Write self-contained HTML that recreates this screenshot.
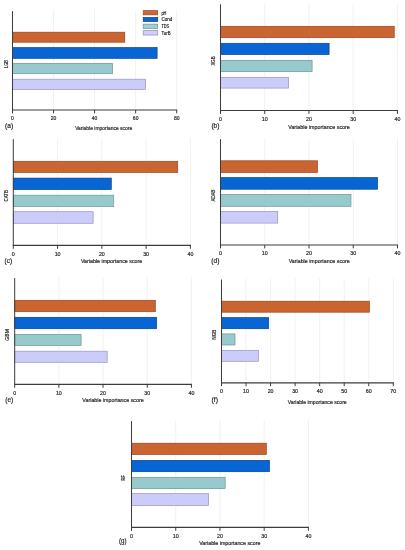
<!DOCTYPE html>
<html><head><meta charset="utf-8"><style>
html,body{margin:0;padding:0;background:#fff;width:405px;height:550px;overflow:hidden}
svg{display:block}
text{font-family:'Liberation Sans', Arial, sans-serif;fill:#2a2a2a;stroke:#2a2a2a;stroke-width:0.2px}
.tk{font-size:5.2px;text-anchor:middle}
.yl{font-size:5.0px;text-anchor:middle}
.pl{font-size:7.0px}
.tt{font-size:5.8px;text-anchor:middle}
.lg{font-size:4.8px}
</style></head><body>
<svg width="405" height="550" viewBox="0 0 405 550">
<line x1="53.55" y1="10.10" x2="53.55" y2="110.00" stroke="#EBEBEB" stroke-width="0.7"/>
<line x1="94.60" y1="10.10" x2="94.60" y2="110.00" stroke="#EBEBEB" stroke-width="0.7"/>
<line x1="135.65" y1="10.10" x2="135.65" y2="110.00" stroke="#EBEBEB" stroke-width="0.7"/>
<line x1="176.70" y1="10.10" x2="176.70" y2="110.00" stroke="#EBEBEB" stroke-width="0.7"/>
<rect x="12.50" y="32.20" width="112.28" height="10.00" fill="#CA6430" stroke="#9A4420" stroke-width="0.7"/>
<rect x="12.50" y="47.60" width="144.61" height="10.70" fill="#0865D4" stroke="#063E90" stroke-width="0.7"/>
<rect x="12.50" y="63.40" width="100.07" height="10.30" fill="#96CACC" stroke="#6A9796" stroke-width="0.7"/>
<rect x="12.50" y="79.20" width="133.11" height="10.20" fill="#CCCCFA" stroke="#9494C0" stroke-width="0.7"/>
<line x1="12.50" y1="11.10" x2="12.50" y2="110.00" stroke="#3c3c3c" stroke-width="1.0"/>
<line x1="12.00" y1="110.00" x2="177.20" y2="110.00" stroke="#3c3c3c" stroke-width="1.2"/>
<line x1="12.50" y1="110.00" x2="12.50" y2="113.40" stroke="#3c3c3c" stroke-width="1.0"/>
<text x="12.50" y="120.30" class="tk" style="font-size:5.0px">0</text>
<line x1="53.55" y1="110.00" x2="53.55" y2="113.40" stroke="#3c3c3c" stroke-width="1.0"/>
<text x="53.55" y="120.30" class="tk" style="font-size:5.0px">20</text>
<line x1="94.60" y1="110.00" x2="94.60" y2="113.40" stroke="#3c3c3c" stroke-width="1.0"/>
<text x="94.60" y="120.30" class="tk" style="font-size:5.0px">40</text>
<line x1="135.65" y1="110.00" x2="135.65" y2="113.40" stroke="#3c3c3c" stroke-width="1.0"/>
<text x="135.65" y="120.30" class="tk" style="font-size:5.0px">60</text>
<line x1="176.70" y1="110.00" x2="176.70" y2="113.40" stroke="#3c3c3c" stroke-width="1.0"/>
<text x="176.70" y="120.30" class="tk" style="font-size:5.0px">80</text>
<text transform="translate(7.50,64.10) rotate(-90)" class="yl" textLength="7.6" lengthAdjust="spacingAndGlyphs">LGB</text>
<text x="5.00" y="128.20" class="pl" textLength="8.2" lengthAdjust="spacingAndGlyphs">(a)</text>
<text x="103.70" y="130.30" class="tt" textLength="57.0" lengthAdjust="spacingAndGlyphs">Variable importance score</text>
<line x1="264.73" y1="3.30" x2="264.73" y2="110.50" stroke="#EBEBEB" stroke-width="0.7"/>
<line x1="308.95" y1="3.30" x2="308.95" y2="110.50" stroke="#EBEBEB" stroke-width="0.7"/>
<line x1="353.17" y1="3.30" x2="353.17" y2="110.50" stroke="#EBEBEB" stroke-width="0.7"/>
<line x1="397.40" y1="3.30" x2="397.40" y2="110.50" stroke="#EBEBEB" stroke-width="0.7"/>
<rect x="220.50" y="26.30" width="173.73" height="11.40" fill="#CA6430" stroke="#9A4420" stroke-width="0.7"/>
<rect x="220.50" y="43.30" width="108.58" height="11.20" fill="#0865D4" stroke="#063E90" stroke-width="0.7"/>
<rect x="220.50" y="60.30" width="91.60" height="11.30" fill="#96CACC" stroke="#6A9796" stroke-width="0.7"/>
<rect x="220.50" y="77.30" width="68.03" height="10.80" fill="#CCCCFA" stroke="#9494C0" stroke-width="0.7"/>
<line x1="220.50" y1="4.30" x2="220.50" y2="110.50" stroke="#3c3c3c" stroke-width="1.0"/>
<line x1="220.00" y1="110.50" x2="397.90" y2="110.50" stroke="#3c3c3c" stroke-width="1.2"/>
<line x1="220.50" y1="110.50" x2="220.50" y2="113.90" stroke="#3c3c3c" stroke-width="1.0"/>
<text x="220.50" y="120.80" class="tk" style="font-size:5.3px">0</text>
<line x1="264.73" y1="110.50" x2="264.73" y2="113.90" stroke="#3c3c3c" stroke-width="1.0"/>
<text x="264.73" y="120.80" class="tk" style="font-size:5.3px">10</text>
<line x1="308.95" y1="110.50" x2="308.95" y2="113.90" stroke="#3c3c3c" stroke-width="1.0"/>
<text x="308.95" y="120.80" class="tk" style="font-size:5.3px">20</text>
<line x1="353.17" y1="110.50" x2="353.17" y2="113.90" stroke="#3c3c3c" stroke-width="1.0"/>
<text x="353.17" y="120.80" class="tk" style="font-size:5.3px">30</text>
<line x1="397.40" y1="110.50" x2="397.40" y2="113.90" stroke="#3c3c3c" stroke-width="1.0"/>
<text x="397.40" y="120.80" class="tk" style="font-size:5.3px">40</text>
<text transform="translate(214.80,61.00) rotate(-90)" class="yl" textLength="9.2" lengthAdjust="spacingAndGlyphs">XGB</text>
<text x="211.40" y="128.30" class="pl" textLength="8.1" lengthAdjust="spacingAndGlyphs">(b)</text>
<text x="319.00" y="128.60" class="tt" textLength="61.5" lengthAdjust="spacingAndGlyphs">Variable importance score</text>
<line x1="57.58" y1="138.10" x2="57.58" y2="245.40" stroke="#EBEBEB" stroke-width="0.7"/>
<line x1="101.85" y1="138.10" x2="101.85" y2="245.40" stroke="#EBEBEB" stroke-width="0.7"/>
<line x1="146.13" y1="138.10" x2="146.13" y2="245.40" stroke="#EBEBEB" stroke-width="0.7"/>
<line x1="190.40" y1="138.10" x2="190.40" y2="245.40" stroke="#EBEBEB" stroke-width="0.7"/>
<rect x="13.30" y="161.30" width="164.40" height="11.10" fill="#CA6430" stroke="#9A4420" stroke-width="0.7"/>
<rect x="13.30" y="178.10" width="97.99" height="11.40" fill="#0865D4" stroke="#063E90" stroke-width="0.7"/>
<rect x="13.30" y="195.20" width="100.43" height="11.30" fill="#96CACC" stroke="#6A9796" stroke-width="0.7"/>
<rect x="13.30" y="211.70" width="79.84" height="11.60" fill="#CCCCFA" stroke="#9494C0" stroke-width="0.7"/>
<line x1="13.30" y1="139.10" x2="13.30" y2="245.40" stroke="#3c3c3c" stroke-width="1.0"/>
<line x1="12.80" y1="245.40" x2="190.90" y2="245.40" stroke="#3c3c3c" stroke-width="1.2"/>
<line x1="13.30" y1="245.40" x2="13.30" y2="248.80" stroke="#3c3c3c" stroke-width="1.0"/>
<text x="13.30" y="255.70" class="tk" style="font-size:5.3px">0</text>
<line x1="57.58" y1="245.40" x2="57.58" y2="248.80" stroke="#3c3c3c" stroke-width="1.0"/>
<text x="57.58" y="255.70" class="tk" style="font-size:5.3px">10</text>
<line x1="101.85" y1="245.40" x2="101.85" y2="248.80" stroke="#3c3c3c" stroke-width="1.0"/>
<text x="101.85" y="255.70" class="tk" style="font-size:5.3px">20</text>
<line x1="146.13" y1="245.40" x2="146.13" y2="248.80" stroke="#3c3c3c" stroke-width="1.0"/>
<text x="146.13" y="255.70" class="tk" style="font-size:5.3px">30</text>
<line x1="190.40" y1="245.40" x2="190.40" y2="248.80" stroke="#3c3c3c" stroke-width="1.0"/>
<text x="190.40" y="255.70" class="tk" style="font-size:5.3px">40</text>
<text transform="translate(7.60,195.80) rotate(-90)" class="yl" textLength="11.2" lengthAdjust="spacingAndGlyphs">CATB</text>
<text x="4.60" y="263.30" class="pl" textLength="7.5" lengthAdjust="spacingAndGlyphs">(c)</text>
<text x="111.60" y="263.10" class="tt" textLength="61.3" lengthAdjust="spacingAndGlyphs">Variable importance score</text>
<line x1="264.75" y1="138.10" x2="264.75" y2="245.00" stroke="#EBEBEB" stroke-width="0.7"/>
<line x1="309.00" y1="138.10" x2="309.00" y2="245.00" stroke="#EBEBEB" stroke-width="0.7"/>
<line x1="353.25" y1="138.10" x2="353.25" y2="245.00" stroke="#EBEBEB" stroke-width="0.7"/>
<line x1="397.50" y1="138.10" x2="397.50" y2="245.00" stroke="#EBEBEB" stroke-width="0.7"/>
<rect x="220.50" y="160.80" width="97.05" height="11.60" fill="#CA6430" stroke="#9A4420" stroke-width="0.7"/>
<rect x="220.50" y="177.60" width="157.01" height="11.60" fill="#0865D4" stroke="#063E90" stroke-width="0.7"/>
<rect x="220.50" y="194.40" width="130.46" height="11.90" fill="#96CACC" stroke="#6A9796" stroke-width="0.7"/>
<rect x="220.50" y="211.50" width="57.23" height="11.60" fill="#CCCCFA" stroke="#9494C0" stroke-width="0.7"/>
<line x1="220.50" y1="139.10" x2="220.50" y2="245.00" stroke="#3c3c3c" stroke-width="1.0"/>
<line x1="220.00" y1="245.00" x2="398.00" y2="245.00" stroke="#3c3c3c" stroke-width="1.2"/>
<line x1="220.50" y1="245.00" x2="220.50" y2="248.40" stroke="#3c3c3c" stroke-width="1.0"/>
<text x="220.50" y="255.30" class="tk" style="font-size:5.3px">0</text>
<line x1="264.75" y1="245.00" x2="264.75" y2="248.40" stroke="#3c3c3c" stroke-width="1.0"/>
<text x="264.75" y="255.30" class="tk" style="font-size:5.3px">10</text>
<line x1="309.00" y1="245.00" x2="309.00" y2="248.40" stroke="#3c3c3c" stroke-width="1.0"/>
<text x="309.00" y="255.30" class="tk" style="font-size:5.3px">20</text>
<line x1="353.25" y1="245.00" x2="353.25" y2="248.40" stroke="#3c3c3c" stroke-width="1.0"/>
<text x="353.25" y="255.30" class="tk" style="font-size:5.3px">30</text>
<line x1="397.50" y1="245.00" x2="397.50" y2="248.40" stroke="#3c3c3c" stroke-width="1.0"/>
<text x="397.50" y="255.30" class="tk" style="font-size:5.3px">40</text>
<text transform="translate(214.80,195.50) rotate(-90)" class="yl" textLength="12.2" lengthAdjust="spacingAndGlyphs">ADAB</text>
<text x="211.30" y="262.90" class="pl" textLength="8.2" lengthAdjust="spacingAndGlyphs">(d)</text>
<text x="319.20" y="262.70" class="tt" textLength="61.0" lengthAdjust="spacingAndGlyphs">Variable importance score</text>
<line x1="58.88" y1="277.00" x2="58.88" y2="384.40" stroke="#EBEBEB" stroke-width="0.7"/>
<line x1="103.05" y1="277.00" x2="103.05" y2="384.40" stroke="#EBEBEB" stroke-width="0.7"/>
<line x1="147.22" y1="277.00" x2="147.22" y2="384.40" stroke="#EBEBEB" stroke-width="0.7"/>
<line x1="191.40" y1="277.00" x2="191.40" y2="384.40" stroke="#EBEBEB" stroke-width="0.7"/>
<rect x="14.70" y="300.30" width="140.62" height="11.40" fill="#CA6430" stroke="#9A4420" stroke-width="0.7"/>
<rect x="14.70" y="317.30" width="141.94" height="11.40" fill="#0865D4" stroke="#063E90" stroke-width="0.7"/>
<rect x="14.70" y="334.40" width="66.40" height="11.10" fill="#96CACC" stroke="#6A9796" stroke-width="0.7"/>
<rect x="14.70" y="351.20" width="92.47" height="11.10" fill="#CCCCFA" stroke="#9494C0" stroke-width="0.7"/>
<line x1="14.70" y1="278.00" x2="14.70" y2="384.40" stroke="#3c3c3c" stroke-width="1.0"/>
<line x1="14.20" y1="384.40" x2="191.90" y2="384.40" stroke="#3c3c3c" stroke-width="1.2"/>
<line x1="14.70" y1="384.40" x2="14.70" y2="387.80" stroke="#3c3c3c" stroke-width="1.0"/>
<text x="14.70" y="394.70" class="tk" style="font-size:5.3px">0</text>
<line x1="58.88" y1="384.40" x2="58.88" y2="387.80" stroke="#3c3c3c" stroke-width="1.0"/>
<text x="58.88" y="394.70" class="tk" style="font-size:5.3px">10</text>
<line x1="103.05" y1="384.40" x2="103.05" y2="387.80" stroke="#3c3c3c" stroke-width="1.0"/>
<text x="103.05" y="394.70" class="tk" style="font-size:5.3px">20</text>
<line x1="147.22" y1="384.40" x2="147.22" y2="387.80" stroke="#3c3c3c" stroke-width="1.0"/>
<text x="147.22" y="394.70" class="tk" style="font-size:5.3px">30</text>
<line x1="191.40" y1="384.40" x2="191.40" y2="387.80" stroke="#3c3c3c" stroke-width="1.0"/>
<text x="191.40" y="394.70" class="tk" style="font-size:5.3px">40</text>
<text transform="translate(9.20,334.90) rotate(-90)" class="yl" textLength="11.5" lengthAdjust="spacingAndGlyphs">GBM</text>
<text x="5.20" y="402.30" class="pl" textLength="8.1" lengthAdjust="spacingAndGlyphs">(e)</text>
<text x="113.00" y="402.30" class="tt" textLength="61.3" lengthAdjust="spacingAndGlyphs">Variable importance score</text>
<line x1="246.04" y1="278.50" x2="246.04" y2="382.80" stroke="#EBEBEB" stroke-width="0.7"/>
<line x1="270.59" y1="278.50" x2="270.59" y2="382.80" stroke="#EBEBEB" stroke-width="0.7"/>
<line x1="295.13" y1="278.50" x2="295.13" y2="382.80" stroke="#EBEBEB" stroke-width="0.7"/>
<line x1="319.67" y1="278.50" x2="319.67" y2="382.80" stroke="#EBEBEB" stroke-width="0.7"/>
<line x1="344.21" y1="278.50" x2="344.21" y2="382.80" stroke="#EBEBEB" stroke-width="0.7"/>
<line x1="368.76" y1="278.50" x2="368.76" y2="382.80" stroke="#EBEBEB" stroke-width="0.7"/>
<line x1="393.30" y1="278.50" x2="393.30" y2="382.80" stroke="#EBEBEB" stroke-width="0.7"/>
<rect x="221.50" y="301.20" width="147.94" height="11.00" fill="#CA6430" stroke="#9A4420" stroke-width="0.7"/>
<rect x="221.50" y="317.60" width="47.07" height="11.10" fill="#0865D4" stroke="#063E90" stroke-width="0.7"/>
<rect x="221.50" y="333.90" width="13.49" height="11.10" fill="#96CACC" stroke="#6A9796" stroke-width="0.7"/>
<rect x="221.50" y="350.50" width="36.93" height="10.80" fill="#CCCCFA" stroke="#9494C0" stroke-width="0.7"/>
<line x1="221.50" y1="279.50" x2="221.50" y2="382.80" stroke="#3c3c3c" stroke-width="1.0"/>
<line x1="221.00" y1="382.80" x2="393.80" y2="382.80" stroke="#3c3c3c" stroke-width="1.2"/>
<line x1="221.50" y1="382.80" x2="221.50" y2="386.20" stroke="#3c3c3c" stroke-width="1.0"/>
<text x="221.50" y="393.10" class="tk" style="font-size:5.3px">0</text>
<line x1="246.04" y1="382.80" x2="246.04" y2="386.20" stroke="#3c3c3c" stroke-width="1.0"/>
<text x="246.04" y="393.10" class="tk" style="font-size:5.3px">10</text>
<line x1="270.59" y1="382.80" x2="270.59" y2="386.20" stroke="#3c3c3c" stroke-width="1.0"/>
<text x="270.59" y="393.10" class="tk" style="font-size:5.3px">20</text>
<line x1="295.13" y1="382.80" x2="295.13" y2="386.20" stroke="#3c3c3c" stroke-width="1.0"/>
<text x="295.13" y="393.10" class="tk" style="font-size:5.3px">30</text>
<line x1="319.67" y1="382.80" x2="319.67" y2="386.20" stroke="#3c3c3c" stroke-width="1.0"/>
<text x="319.67" y="393.10" class="tk" style="font-size:5.3px">40</text>
<line x1="344.21" y1="382.80" x2="344.21" y2="386.20" stroke="#3c3c3c" stroke-width="1.0"/>
<text x="344.21" y="393.10" class="tk" style="font-size:5.3px">50</text>
<line x1="368.76" y1="382.80" x2="368.76" y2="386.20" stroke="#3c3c3c" stroke-width="1.0"/>
<text x="368.76" y="393.10" class="tk" style="font-size:5.3px">60</text>
<line x1="393.30" y1="382.80" x2="393.30" y2="386.20" stroke="#3c3c3c" stroke-width="1.0"/>
<text x="393.30" y="393.10" class="tk" style="font-size:5.3px">70</text>
<text transform="translate(216.40,334.70) rotate(-90)" class="yl" textLength="9.6" lengthAdjust="spacingAndGlyphs">NGB</text>
<text x="211.50" y="402.30" class="pl" textLength="6.5" lengthAdjust="spacingAndGlyphs">(f)</text>
<text x="317.20" y="404.40" class="tt" textLength="59.0" lengthAdjust="spacingAndGlyphs">Variable importance score</text>
<line x1="175.72" y1="420.10" x2="175.72" y2="527.40" stroke="#EBEBEB" stroke-width="0.7"/>
<line x1="219.95" y1="420.10" x2="219.95" y2="527.40" stroke="#EBEBEB" stroke-width="0.7"/>
<line x1="264.17" y1="420.10" x2="264.17" y2="527.40" stroke="#EBEBEB" stroke-width="0.7"/>
<line x1="308.40" y1="420.10" x2="308.40" y2="527.40" stroke="#EBEBEB" stroke-width="0.7"/>
<rect x="131.50" y="443.20" width="134.81" height="11.30" fill="#CA6430" stroke="#9A4420" stroke-width="0.7"/>
<rect x="131.50" y="460.40" width="137.90" height="11.30" fill="#0865D4" stroke="#063E90" stroke-width="0.7"/>
<rect x="131.50" y="477.30" width="93.68" height="11.30" fill="#96CACC" stroke="#6A9796" stroke-width="0.7"/>
<rect x="131.50" y="493.60" width="77.09" height="11.80" fill="#CCCCFA" stroke="#9494C0" stroke-width="0.7"/>
<line x1="131.50" y1="421.10" x2="131.50" y2="527.40" stroke="#3c3c3c" stroke-width="1.0"/>
<line x1="131.00" y1="527.40" x2="308.90" y2="527.40" stroke="#3c3c3c" stroke-width="1.2"/>
<line x1="131.50" y1="527.40" x2="131.50" y2="530.80" stroke="#3c3c3c" stroke-width="1.0"/>
<text x="131.50" y="537.70" class="tk" style="font-size:5.3px">0</text>
<line x1="175.72" y1="527.40" x2="175.72" y2="530.80" stroke="#3c3c3c" stroke-width="1.0"/>
<text x="175.72" y="537.70" class="tk" style="font-size:5.3px">10</text>
<line x1="219.95" y1="527.40" x2="219.95" y2="530.80" stroke="#3c3c3c" stroke-width="1.0"/>
<text x="219.95" y="537.70" class="tk" style="font-size:5.3px">20</text>
<line x1="264.17" y1="527.40" x2="264.17" y2="530.80" stroke="#3c3c3c" stroke-width="1.0"/>
<text x="264.17" y="537.70" class="tk" style="font-size:5.3px">30</text>
<line x1="308.40" y1="527.40" x2="308.40" y2="530.80" stroke="#3c3c3c" stroke-width="1.0"/>
<text x="308.40" y="537.70" class="tk" style="font-size:5.3px">40</text>
<text transform="translate(125.30,477.80) rotate(-90)" class="yl" textLength="5.2" lengthAdjust="spacingAndGlyphs">RF</text>
<text x="119.00" y="543.00" class="pl" textLength="7.6" lengthAdjust="spacingAndGlyphs">(g)</text>
<text x="229.80" y="544.50" class="tt" textLength="61.2" lengthAdjust="spacingAndGlyphs">Variable importance score</text>
<rect x="143.2" y="10.65" width="14.5" height="4.20" fill="#CD6732" stroke="#8E4A2E" stroke-width="0.7"/>
<text x="161.4" y="14.55" class="lg" textLength="5.0" lengthAdjust="spacingAndGlyphs">pH</text>
<rect x="143.2" y="17.45" width="14.5" height="4.00" fill="#0866D6" stroke="#0A3C86" stroke-width="0.7"/>
<text x="161.4" y="21.25" class="lg" textLength="10.8" lengthAdjust="spacingAndGlyphs">Cond</text>
<rect x="143.2" y="24.15" width="14.5" height="4.20" fill="#9BD2D0" stroke="#6F8F8E" stroke-width="0.7"/>
<text x="161.4" y="28.05" class="lg" textLength="7.7" lengthAdjust="spacingAndGlyphs">TDS</text>
<rect x="143.2" y="30.65" width="14.5" height="4.40" fill="#D0D0FC" stroke="#8F8FB0" stroke-width="0.7"/>
<text x="161.4" y="34.65" class="lg" textLength="9.2" lengthAdjust="spacingAndGlyphs">TurB</text>
</svg>
</body></html>
